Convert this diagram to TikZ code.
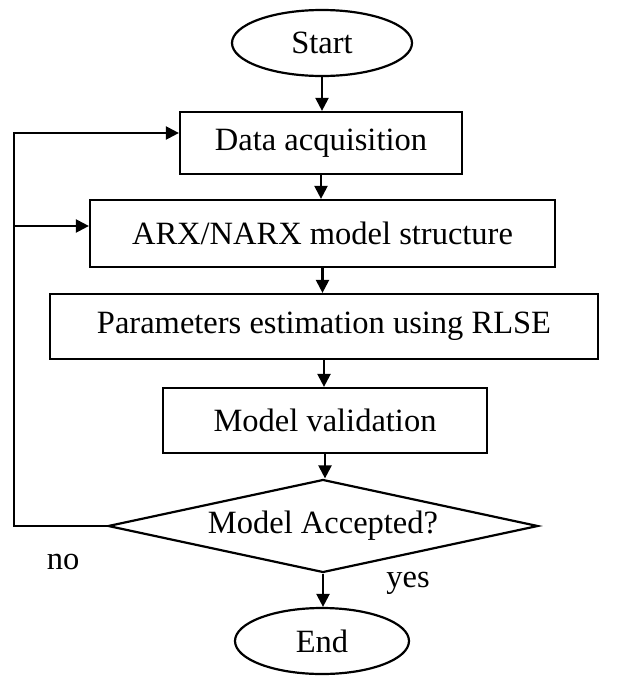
\documentclass[tikz,border=0pt]{standalone}
\usepackage{fontspec}
\setmainfont{Liberation Serif}
\usetikzlibrary{shapes.geometric,arrows.meta}
\begin{document}
\begin{tikzpicture}[x=1pt,y=-1pt,
  every node/.style={font=\fontsize{32.5}{36}\selectfont},
  box/.style={draw,line width=2.2pt,inner sep=0pt},
  arr/.style={line width=2.2pt,-{Triangle[length=13pt,width=13pt]}}]
\useasboundingbox (0,0) rectangle (620,691);
\node[box,ellipse,minimum width=180,minimum height=66] (start) at (322,43) {Start};
\node[box,minimum width=282,minimum height=62] (data) at (321,143) {Data acquisition};
\node[box,minimum width=465,minimum height=67] (arx) at (322.5,233.5) {ARX/NARX model structure};
\node[box,minimum width=548,minimum height=65] (par) at (324,326.5) {Parameters estimation using RLSE};
\node[box,minimum width=324,minimum height=65] (val) at (325,420.5) {Model validation};
\node[box,diamond,aspect=4.6,minimum width=430,minimum height=93] (dec) at (323,526) {};
\node at (323,526) {Model Accepted?};
\node[box,ellipse,minimum width=174,minimum height=66] (end) at (322,641) {End};
\node (no) at (63,562) {no};
\node (yes) at (408,583) {yes};
\draw[arr] (start) -- (start|-data.north);
\draw[arr] (data) -- (data|-arx.north);
\draw[arr] (arx) -- (arx|-par.north);
\draw[arr] (par) -- (par|-val.north);
\draw[arr] (val) -- (val|-dec.north);
\draw[arr] (dec) -- (dec|-end.north);
\coordinate (c1) at (14,526);
\coordinate (c2) at (14,133);
\coordinate (c3) at (14,226);
\draw[arr] (dec.west) -- (c1) -- (c2) -- (data.west|-c2);
\draw[arr] (c3) -- (arx.west|-c3);
\end{tikzpicture}
\end{document}
